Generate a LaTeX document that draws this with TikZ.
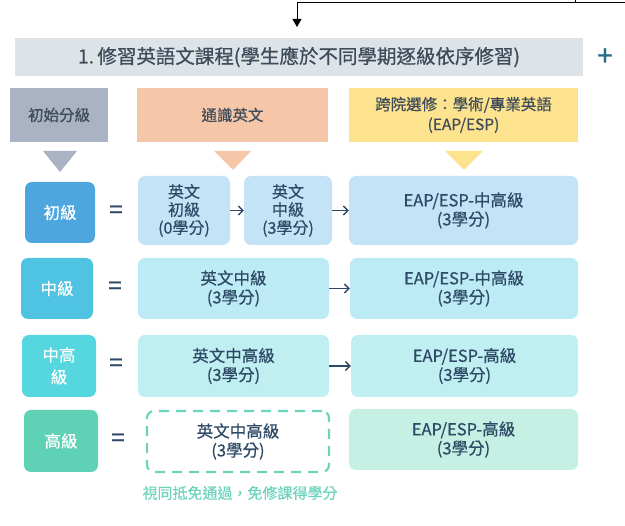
\documentclass[tikz,border=0pt]{standalone}
\usepackage{fontspec}
\setmainfont{Noto Sans CJK TC}[AutoFakeBold=0.6]
\newfontfamily\medf{Noto Sans CJK TC}[FakeBold=0.6]
\usetikzlibrary{arrows.meta}
\definecolor{dk}{HTML}{3E4B5A}
\definecolor{tx}{HTML}{2F4A66}
\definecolor{ttl}{HTML}{DDE3E7}
\definecolor{h1}{HTML}{A9B3C3}
\definecolor{h2}{HTML}{F6C6A8}
\definecolor{h3}{HTML}{FDE38D}
\definecolor{sa}{HTML}{4DA6DE}\definecolor{ba}{HTML}{C5E3F6}
\definecolor{sb}{HTML}{4EC4E2}\definecolor{bb}{HTML}{BDEBF5}
\definecolor{sc}{HTML}{56D6DE}\definecolor{bc}{HTML}{C0EFF1}
\definecolor{sd}{HTML}{5FD2B5}\definecolor{bd}{HTML}{C6F0E3}
\definecolor{gr}{HTML}{6ED3BC}
\begin{document}
\begin{tikzpicture}[x=1pt,y=-1pt,
 rbox/.style={rounded corners=7pt,font=\medf\fontsize{16.5}{19}\selectfont,text=tx,align=center},
 lvl/.style={rounded corners=7pt,font=\medf\fontsize{16.5}{22}\selectfont,text=white,align=center},
 hdr/.style={font=\medf\fontsize{15.5}{20}\selectfont,text=dk,align=center},
 eq/.style={font=\fontsize{24}{24}\selectfont\bfseries,text=tx},
 ar/.style={-{Straight Barb[length=4.5pt]},line width=1.4pt,tx}]
\useasboundingbox (0,0) rectangle (625,526);
\coordinate (c0) at (575,0);
\coordinate (c1) at (575,3);
\coordinate (c2) at (625,3);
\coordinate (c3) at (297,3);
\draw[line width=1pt] (c0)--(c1);
\draw[line width=1pt] (c2)--(c3);
\node[fill=ttl,minimum width=568pt,minimum height=38pt,font=\medf\fontsize{19.5}{22}\selectfont,text=dk] (title) at (299,57) {1.\,修習英語文課程(學生應於不同學期逐級依序修習)};
\draw[line width=1pt,-{Triangle[length=8pt,width=9pt]}] (c3)--(297,27);
\node[font=\fontsize{28}{28}\selectfont\bfseries,text=tx!80!cyan] (plus) at (605,57) {+};
\node[hdr,fill=h1,minimum width=98pt,minimum height=54pt] (H1) at (59,115) {初始分級};
\node[hdr,fill=h2,minimum width=191pt,minimum height=54pt] (H2) at (232.5,115) {通識英文};
\node[hdr,fill=h3,minimum width=229pt,minimum height=54pt] (H3) at (463.5,115) {跨院選修：學術/專業英語\\(EAP/ESP)};
\fill[h1] (43,151)--(77,151)--(60,172)--cycle;
\fill[h2] (214,151)--(251,151)--(233,170)--cycle;
\fill[h3] (445,151)--(483,151)--(464,170)--cycle;
\node[lvl,fill=sa,minimum width=70pt,minimum height=61pt] (L1) at (60,212.5) {初級};
\node[eq] (e1) at (116,212) {=};
\node[rbox,fill=ba,minimum width=92pt,minimum height=69pt,font=\medf\fontsize{16}{18}\selectfont] (A1) at (184,210.5) {英文\\初級\\(0學分)};
\node[rbox,fill=ba,minimum width=88pt,minimum height=69pt,font=\medf\fontsize{16}{18}\selectfont] (B1) at (288,210.5) {英文\\中級\\(3學分)};
\node[rbox,fill=ba,minimum width=229pt,minimum height=69pt] (C1) at (463.5,210.5) {EAP/ESP-中高級\\(3學分)};
\draw[ar] (A1.east)--(B1.west);
\draw[ar] (B1.east)--(C1.west);
\node[lvl,fill=sb,minimum width=72pt,minimum height=61pt] (L2) at (57,288.5) {中級};
\node[eq] (e2) at (115,288) {=};
\node[rbox,fill=bb,minimum width=191pt,minimum height=61pt] (A2) at (233.5,288.5) {英文中級\\(3學分)};
\node[rbox,fill=bb,minimum width=228pt,minimum height=61pt] (C2) at (464,288.5) {EAP/ESP-中高級\\(3學分)};
\draw[ar] (A2.east)--(C2.west);
\node[lvl,fill=sc,minimum width=74pt,minimum height=62pt] (L3) at (59,366) {中高\\級};
\node[eq] (e3) at (116,365) {=};
\node[rbox,fill=bc,minimum width=191pt,minimum height=62pt] (A3) at (233.5,366) {英文中高級\\(3學分)};
\node[rbox,fill=bc,minimum width=227pt,minimum height=62pt] (C3) at (464.5,366) {EAP/ESP-高級\\(3學分)};
\draw[ar] (A3.east)--(C3.west);
\node[lvl,fill=sd,minimum width=74pt,minimum height=62pt] (L4) at (61,441) {高級};
\node[eq] (e4) at (118,440) {=};
\node[rbox,draw=gr,line width=2.2pt,dash pattern=on 10pt off 7pt,minimum width=182pt,minimum height=61pt] (A4) at (238,441.5) {英文中高級\\(3學分)};
\node[rbox,fill=bd,minimum width=229pt,minimum height=61pt] (C4) at (463.5,439.5) {EAP/ESP-高級\\(3學分)};
\node[font=\medf\fontsize{15}{16}\selectfont,text=gr] (note) at (240,493) {視同抵免通過，免修課得學分};
\end{tikzpicture}
\end{document}
